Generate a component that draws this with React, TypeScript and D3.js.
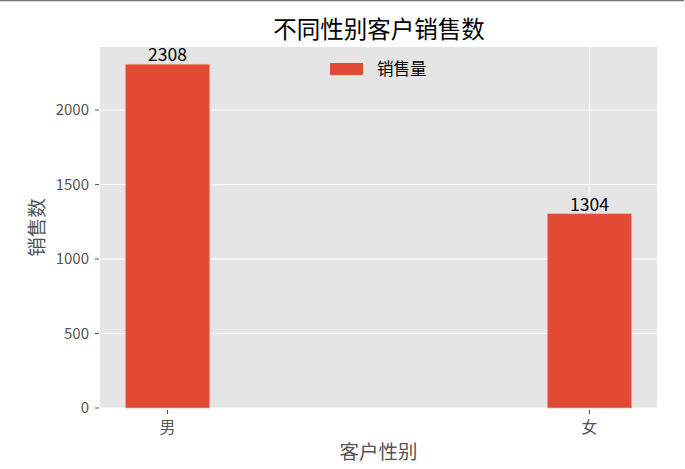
import * as d3 from "d3";
import React from "react";

const categories = ["男", "女"];
const sales = [2308, 1304];
const yTicks = [0, 500, 1000, 1500, 2000];
const seriesName = "销售量";
const title = "不同性别客户销售数";
const xLabel = "客户性别";
const yLabel = "销售数";

const W = 685;
const H = 469;
const margin = { top: 47, right: 28, bottom: 61, left: 100 };
const BAR = "#E24A33";
const FONT = "'Noto Sans CJK SC', 'DejaVu Sans', sans-serif";

const App: React.FC = () => {
  const innerW = W - margin.left - margin.right;
  const innerH = H - margin.top - margin.bottom;
  const barWidth = 0.2;

  // matplotlib-like 5% margins on the x data range
  const lo = -barWidth / 2;
  const hi = categories.length - 1 + barWidth / 2;
  const pad = (hi - lo) * 0.05;
  const x = d3.scaleLinear().domain([lo - pad, hi + pad]).range([0, innerW]);
  const y = d3
    .scaleLinear()
    .domain([0, (d3.max(sales) as number) * 1.05])
    .range([innerH, 0]);

  const bw = x(barWidth) - x(0);

  return (
    <svg
      width={W}
      height={H}
      style={{ position: "absolute", left: 0, top: 0, fontFamily: FONT }}
    >
      <rect width={W} height={H} fill="#fff" />
      <line x1={0} x2={684} y1={0.5} y2={0.5} stroke="#777" strokeWidth={1.5} />

      <text x={margin.left + innerW / 2 + 0.5} y={37.5} textAnchor="middle" fontSize={23.5} fill="#000">
        {title}
      </text>

      <g transform={`translate(${margin.left},${margin.top})`}>
        <rect width={innerW} height={innerH} fill="#E5E5E5" />

        {/* grid */}
        {yTicks.map((t) => (
          <line key={"gy" + t} x1={0} x2={innerW} y1={y(t)} y2={y(t)} stroke="#fff" strokeWidth={1} />
        ))}
        {categories.map((c, i) => (
          <line key={"gx" + c} x1={x(i)} x2={x(i)} y1={0} y2={innerH} stroke="#fff" strokeWidth={1} />
        ))}

        {/* bars */}
        {sales.map((v, i) => (
          <g key={"b" + i}>
            <rect
              x={x(i) - bw / 2}
              y={y(v)}
              width={bw}
              height={innerH - y(v)}
              fill={BAR}
              stroke="#eeb0a4"
              strokeWidth={0.6}
            />
            <text x={x(i)} y={y(v) - 3} textAnchor="middle" fontSize={17.5} fill="#000">
              {v}
            </text>
          </g>
        ))}

        {/* y axis ticks */}
        {yTicks.map((t) => (
          <g key={"ty" + t} transform={`translate(0,${y(t)})`}>
            <line x1={-5} x2={-1} stroke="#555" strokeWidth={1} />
            <text x={-11} dy="0.35em" textAnchor="end" fontSize={15} fill="#555">
              {t}
            </text>
          </g>
        ))}

        {/* x axis ticks */}
        {categories.map((c, i) => (
          <g key={"tx" + c} transform={`translate(${x(i)},${innerH})`}>
            <line y1={2} y2={6} stroke="#555" strokeWidth={1} />
            <text y={25} textAnchor="middle" fontSize={16} fill="#555">
              {c}
            </text>
          </g>
        ))}

        {/* legend */}
        <rect x={230} y={16} width={33} height={12} fill={BAR} />
        <text x={277} y={28} fontSize={16.5} fill="#000">
          {seriesName}
        </text>
      </g>

      <text x={margin.left + innerW / 2} y={459} textAnchor="middle" fontSize={19.5} fill="#555">
        {xLabel}
      </text>
      <text
        transform={`translate(44,${margin.top + innerH / 2}) rotate(-90)`}
        textAnchor="middle"
        fontSize={19.5}
        fill="#555"
      >
        {yLabel}
      </text>
    </svg>
  );
};

export default App;
